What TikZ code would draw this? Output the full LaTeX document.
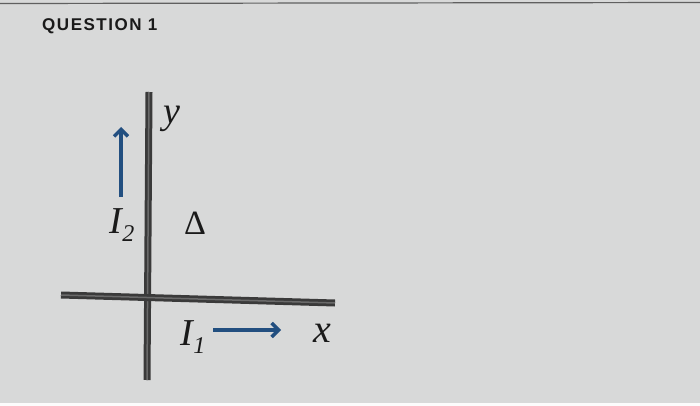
\documentclass[tikz,border=0pt]{standalone}
\usepackage{fontspec}
\setmainfont{Liberation Serif}
\newfontfamily\headfont{Liberation Sans}
\usetikzlibrary{arrows.meta}
\definecolor{bg}{HTML}{D8D9D9}
\definecolor{wire}{HTML}{3A3A3A}
\definecolor{wirelight}{HTML}{6A6A6A}
\definecolor{curblue}{HTML}{224F80}
\definecolor{txt}{HTML}{1A1A1A}
\tikzset{
  wirestyle/.style={line width=7pt, draw=wire},
  wirecore/.style={line width=1.5pt, draw=wirelight},
  current/.style={line width=3.5pt, draw=curblue, -{Straight Barb[length=7pt,width=14pt,line width=3.5pt]}},
  lbl/.style={font=\fontsize{38}{38}\selectfont\itshape, text=txt, inner sep=0pt},
}
\begin{document}
\begin{tikzpicture}[x=1pt,y=-1pt]
\useasboundingbox (0,0) rectangle (700,406);
\fill[bg] (0,0) rectangle (700,406);
\fill[white!92!bg] (0,403) rectangle (700,406);
\draw[line width=1.2pt, draw=gray!75!black] (0,3.5) -- (700,2.5);
\node[anchor=west, inner sep=0pt, text=txt] (title) at (42,26)
  {\headfont\bfseries\fontsize{17}{17}\selectfont\addfontfeature{LetterSpace=9}QUESTION 1};
% wires
\coordinate (vt) at (149,92);
\coordinate (vb) at (147,380);
\coordinate (hl) at (61,295);
\coordinate (hr) at (335,303);
\draw[wirestyle] (vt) -- (vb);
\draw[wirecore] (vt) -- (vb);
\draw[wirestyle] (hl) -- (hr);
\draw[wirecore] (hl) -- (hr);
% labels
\node[lbl] (ylab) at (172,119) {y};
\node[lbl] (I2) at (122,225) {I\raisebox{-8pt}{\fontsize{24}{24}\selectfont 2}};
\node[lbl, font=\fontsize{34}{34}\selectfont, text=txt] (delta) at (195,223) {Δ};
\node[lbl] (I1) at (193,337) {I\raisebox{-8pt}{\fontsize{24}{24}\selectfont 1}};
\node[lbl, font=\fontsize{40}{40}\selectfont\itshape] (xlab) at (322,333) {x};
% currents
\coordinate (a2s) at (121,197);
\coordinate (a2e) at (121,127);
\draw[current] (a2s) -- (a2e);
\coordinate (a1s) at (213,330);
\coordinate (a1e) at (281,330);
\draw[current] (a1s) -- (a1e);
\end{tikzpicture}
\end{document}
